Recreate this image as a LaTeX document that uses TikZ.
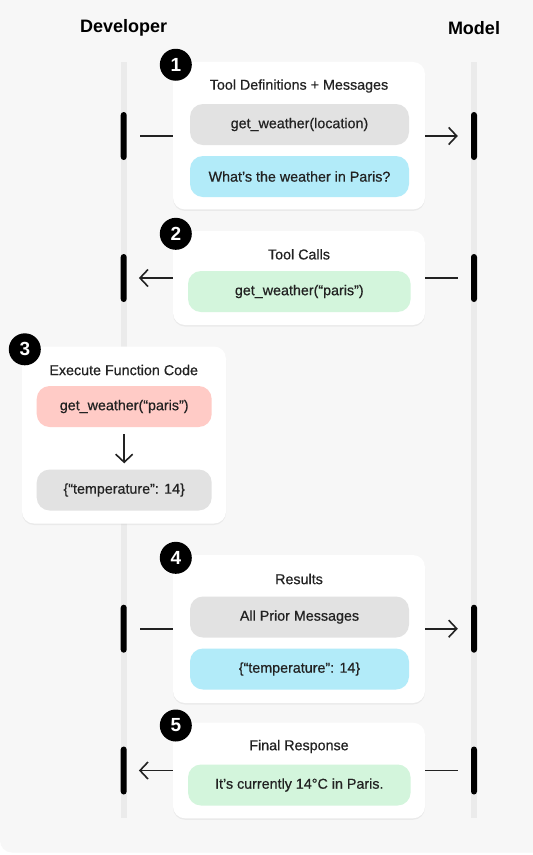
\documentclass[tikz,border=0pt]{standalone}
\usepackage{fontspec}
\setmainfont{Liberation Sans}
\newfontfamily\medfont{Liberation Sans}[FakeBold=0.6]
\usetikzlibrary{arrows.meta,shadows,positioning}
\definecolor{bggray}{HTML}{F7F7F7}
\definecolor{lanegray}{HTML}{EBEBEB}
\definecolor{ink}{HTML}{222222}
\definecolor{pillgray}{HTML}{E2E2E2}
\definecolor{pillblue}{HTML}{B2EBF9}
\definecolor{pillgreen}{HTML}{D3F5DC}
\definecolor{pillred}{HTML}{FFCBC6}
\begin{document}
\begin{tikzpicture}[x=1pt,y=-1pt,
  head/.style={text=black,font=\bfseries\fontsize{18}{20}\selectfont},
  card/.style={fill=white,rounded corners=12pt,minimum width=252pt,inner sep=0pt,
    drop shadow={shadow xshift=0pt,shadow yshift=-1.5pt,opacity=0.1}},
  title/.style={text=ink,font=\medfont\fontsize{14.3}{16}\selectfont},
  pill/.style={rounded corners=13pt,minimum width=219pt,minimum height=41pt,inner sep=0pt,text=ink,font=\medfont\fontsize{14.3}{16}\selectfont},
  badge/.style={circle,fill=black,minimum size=32pt,inner sep=0pt,text=white,font=\bfseries\fontsize{19}{19}\selectfont},
  bar/.style={fill=black,rounded corners=3pt,minimum width=6pt,minimum height=48pt,inner sep=0pt},
  lifeline/.style={draw=lanegray,line width=6pt},
  link/.style={draw=ink,line width=1.6pt},
  flow/.style={link,-{Straight Barb[length=8pt,width=17pt]}}]
\useasboundingbox (0,0) rectangle (533,855);
\fill[white] (0,0) rectangle (533,855);
\fill[bggray,rounded corners=12pt] (0,-20) rectangle (560,852.5);
\draw[lifeline] (123.7,62) -- (123.7,818.3);
\draw[lifeline] (474,62) -- (474,818.3);
\node[head] (dev) at (123.7,28) {Developer};
\node[head] (mod) at (474,28) {Model};
% 1
\node[card,minimum height=147.5pt] (c1) at (299,135.7) {};
\node[badge] (n1) at ([shift={(3,3)}]c1.north west) {1};
\node[title] (t1) at (299,86) {Tool Definitions + Messages};
\node[pill,fill=pillgray] (p1a) at (299.5,124.5) {get\_weather(location)};
\node[pill,fill=pillblue] (p1b) at (299.5,176.5) {What’s the weather in Paris?};
\node[bar] (d1) at (123.7,136) {};
\node[bar] (m1) at (474,136) {};
\draw[link,shorten <=13.3pt] (d1) -- (d1 -| c1.west);
\draw[flow,shorten >=13pt] (c1.east |- m1) -- (m1);
% 2
\node[card,minimum height=94pt] (c2) at (299,278) {};
\node[badge] (n2) at ([shift={(3,3)}]c2.north west) {2};
\node[title] (t2) at (299,254.3) {Tool Calls};
\node[pill,fill=pillgreen,minimum width=222.6pt] (p2) at (299.3,291.5) {get\_weather(“paris”)};
\node[bar] (d2) at (123.7,278) {};
\node[bar] (m2) at (474,278) {};
\draw[flow,shorten >=12pt] (c2.west |- d2) -- (d2);
\draw[link,shorten <=13pt] (m2) -- (m2 -| c2.east);
% 3
\node[card,minimum width=204pt,minimum height=177pt] (c3) at (124,435) {};
\node[badge] (n3) at ([shift={(3,3)}]c3.north west) {3};
\node[title] (t3) at (123.7,370) {Execute Function Code};
\node[pill,fill=pillred,minimum width=175pt] (p3a) at (124.2,406.5) {get\_weather(“paris”)};
\node[pill,fill=pillgray,minimum width=175pt] (p3b) at (124.2,490) {\{“temperature”: 14\}};
\draw[flow,shorten <=7pt,shorten >=6pt] (p3a) -- (p3b);
% 4
\node[card,minimum height=148pt] (c4) at (299,629) {};
\node[badge] (n4) at ([shift={(3,3)}]c4.north west) {4};
\node[title] (t4) at (299,579) {Results};
\node[pill,fill=pillgray] (p4a) at (299.5,617) {All Prior Messages};
\node[pill,fill=pillblue] (p4b) at (299.5,669) {\{“temperature”: 14\}};
\node[bar] (d4) at (123.7,628.7) {};
\node[bar] (m4) at (474,628.7) {};
\draw[link,shorten <=13.3pt] (d4) -- (d4 -| c4.west);
\draw[flow,shorten >=13pt] (c4.east |- m4) -- (m4);
% 5
\node[card,minimum height=95.6pt] (c5) at (299,770.5) {};
\node[badge] (n5) at ([shift={(3,3)}]c5.north west) {5};
\node[title] (t5) at (299,746.5) {Final Response};
\node[pill,fill=pillgreen,minimum width=222.6pt] (p5) at (299.3,785) {It’s currently 14°C in Paris.};
\node[bar] (d5) at (123.7,770.5) {};
\node[bar] (m5) at (474,770.5) {};
\draw[flow,shorten >=12pt] (c5.west |- d5) -- (d5);
\draw[link,shorten <=13pt] (m5) -- (m5 -| c5.east);
\end{tikzpicture}
\end{document}
